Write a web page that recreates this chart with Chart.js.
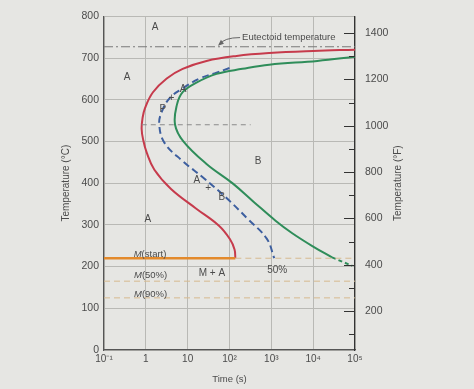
<!DOCTYPE html>
<html>
<head>
<meta charset="utf-8">
<title>Isothermal transformation diagram</title>
<script src="https://cdn.jsdelivr.net/npm/chart.js@4.4.0/dist/chart.umd.min.js"></script>
<style>
  html, body { margin: 0; padding: 0; background: #e6e6e3; }
  canvas { display: block; }
</style>
</head>
<body>
<canvas id="tttChart" width="474" height="389"></canvas>
<script>
// ---------------------------------------
// DATA (time in s, temperature in °C)
// ---------------------------------------

// transformation start (red)
const startTime = [1e5, 1e4, 891, 148, 28.2, 7.59, 3.16, 1.48, 0.955, 0.832, 0.794, 0.86, 1.05, 1.6, 4.0, 15.5, 56, 102, 132, 138];
const startTemp = [720, 717, 712, 705, 693, 674, 651, 618, 580, 555, 530, 505, 473, 432, 386, 340, 298, 266, 241, 220];

// 50% transformation (blue dashed)
const halfTime = [100, 49, 19.5, 7.59, 3.72, 2.40, 2.09, 2.82, 7.59, 22.9, 79.4, 275, 776, 1175];
const halfTemp = [676, 665, 651, 627, 604, 571, 540, 496, 453, 414, 367, 314, 267, 220];

// transformation finish (green)
const finishTime = [1e5, 1.26e4, 891, 204, 49, 16.2, 7.59, 5.5, 5.0, 7.9, 28.2, 117, 380, 1259, 3162, 1e4, 2.82e4];
const finishTemp = [703, 693, 684, 674, 662, 641, 618, 587, 540, 500, 446, 400, 355, 310, 280, 248, 222];
const finishTailTime = [2.82e4, 8.5e4];
const finishTailTemp = [222, 202];

// horizontal reference temperatures
const eutectoidTemp = 727;
const noseTemp = 540;
const noseSpan = [0.8, 320];
const msTemp = 220;
const m50Temp = 165;
const m90Temp = 125;

// axes
const timeRange = [0.1, 1e5];
const timeTicks = [0.1, 1, 10, 100, 1000, 1e4, 1e5];
const timeTickLabels = ["10\u207B\u00B9", "1", "10", "10\u00B2", "10\u00B3", "10\u2074", "10\u2075"];
const celsiusTicks = [0, 100, 200, 300, 400, 500, 600, 700, 800];
const fahrenheitTicks = [100, 200, 300, 400, 500, 600, 700, 800, 900, 1000, 1100, 1200, 1300, 1400];
const fahrenheitLabelled = [200, 400, 600, 800, 1000, 1200, 1400];

// region labels: [text, time, temperature]
const regionLabels = [
    ["A", 1.66, 773],
    ["A", 0.355, 654],
    ["B", 480, 453],
    ["A", 1.12, 314],
    ["P", 2.55, 578],
    ["+", 4.1, 603],
    ["A", 7.8, 624],
    ["A", 16.6, 408],
    ["+", 31, 387],
    ["B", 66, 365],
    ["M + A", 38, 184],
    ["50%", 1380, 191]
];
// martensite labels: [suffix, time, temperature] (drawn after an italic M)
const martensiteLabels = [
    ["(start)", 1.26, 230],
    ["(50%)", 1.3, 180],
    ["(90%)", 1.3, 133]
];

const toPoints = (xs, ys) => xs.map((x, i) => ({ x: x, y: ys[i] }));
const flat = (temp, from, to) => [{ x: from, y: temp }, { x: to, y: temp }];

const textColor = "#4b4b4b";
const gridColor = "#b9b9b5";
const sans = "'Liberation Sans', Arial, sans-serif";

// ---------------------------------------
// OVERLAY: labels, F ticks, right title
// ---------------------------------------
const overlayPlugin = {
    id: "overlay",
    afterDatasetsDraw(chart) {
        const ctx = chart.ctx;
        const xs = chart.scales.x;
        const ys = chart.scales.y;
        const y2 = chart.scales.y2;
        const area = chart.chartArea;

        ctx.save();
        ctx.fillStyle = textColor;
        ctx.textAlign = "center";
        ctx.textBaseline = "middle";

        ctx.font = "10px " + sans;
        regionLabels.forEach(l => {
            ctx.fillText(l[0], xs.getPixelForValue(l[1]), ys.getPixelForValue(l[2]));
        });

        // M(start), M(50%), M(90%)
        martensiteLabels.forEach(l => {
            ctx.font = "9.5px " + sans;
            const restW = ctx.measureText(l[0]).width;
            ctx.font = "italic 9.5px " + sans;
            const mW = ctx.measureText("M").width;
            const cx = xs.getPixelForValue(l[1]);
            const cy = ys.getPixelForValue(l[2]);
            const left = cx - (mW + restW) / 2;
            ctx.textAlign = "left";
            ctx.fillText("M", left, cy);
            ctx.font = "9.5px " + sans;
            ctx.fillText(l[0], left + mW, cy);
        });

        // eutectoid label with leader
        ctx.font = "9.5px " + sans;
        ctx.textAlign = "left";
        const tx = xs.getPixelForValue(200);
        const ty = ys.getPixelForValue(749);
        ctx.fillText("Eutectoid temperature", tx, ty);
        const ax = xs.getPixelForValue(53);
        const ay = ys.getPixelForValue(eutectoidTemp) - 1;
        ctx.strokeStyle = "#666";
        ctx.lineWidth = 1;
        ctx.beginPath();
        ctx.moveTo(tx - 2, ty);
        ctx.quadraticCurveTo(ax + 6, ty, ax + 1, ay - 1);
        ctx.stroke();
        ctx.beginPath();
        ctx.moveTo(ax, ay);
        ctx.lineTo(ax + 6, ay - 2);
        ctx.lineTo(ax + 3, ay - 6);
        ctx.closePath();
        ctx.fillStyle = "#666";
        ctx.fill();

        // Fahrenheit tick marks inside the right axis
        ctx.strokeStyle = "#333";
        ctx.beginPath();
        fahrenheitTicks.forEach(f => {
            const py = Math.round(y2.getPixelForValue(f)) + 0.5;
            const len = fahrenheitLabelled.includes(f) ? 11 : 6;
            ctx.moveTo(area.right - len, py);
            ctx.lineTo(area.right, py);
        });
        ctx.stroke();

        // right axis title
        ctx.fillStyle = textColor;
        ctx.font = "10px " + sans;
        ctx.textAlign = "center";
        ctx.translate(398, (area.top + area.bottom) / 2);
        ctx.rotate(-Math.PI / 2);
        ctx.fillText("Temperature (\u00B0F)", 0, 0);
        ctx.restore();
    }
};

// ---------------------------------------
// CHART
// ---------------------------------------
const tttChart = new Chart(document.getElementById("tttChart"), {
    type: "scatter",
    data: {
        datasets: [
            {
                label: "Eutectoid",
                data: flat(eutectoidTemp, timeRange[0], timeRange[1]),
                borderColor: "#7a7a7a",
                borderWidth: 1.2,
                borderDash: [9, 3, 2, 3]
            },
            {
                label: "Nose",
                data: flat(noseTemp, noseSpan[0], noseSpan[1]),
                borderColor: "#8a8a8a",
                borderWidth: 1.2,
                borderDash: [5, 4]
            },
            {
                label: "Ms dashed",
                data: flat(msTemp, 138, timeRange[1]),
                borderColor: "#d6b98f",
                borderWidth: 1,
                borderDash: [6, 4]
            },
            {
                label: "M50",
                data: flat(m50Temp, timeRange[0], timeRange[1]),
                borderColor: "#d6b98f",
                borderWidth: 1,
                borderDash: [6, 4]
            },
            {
                label: "M90",
                data: flat(m90Temp, timeRange[0], timeRange[1]),
                borderColor: "#d6b98f",
                borderWidth: 1,
                borderDash: [6, 4]
            },
            {
                label: "M(start)",
                data: flat(msTemp, timeRange[0], 138),
                borderColor: "#e38a2c",
                borderWidth: 2.5
            },
            {
                label: "Finish",
                data: toPoints(finishTime, finishTemp),
                borderColor: "#2f8d5a",
                borderWidth: 2,
                tension: 0.4
            },
            {
                label: "Finish tail",
                data: toPoints(finishTailTime, finishTailTemp),
                borderColor: "#2f8d5a",
                borderWidth: 2,
                borderDash: [4, 3]
            },
            {
                label: "50%",
                data: toPoints(halfTime, halfTemp),
                borderColor: "#3d5f9f",
                borderWidth: 2,
                borderDash: [7, 4],
                tension: 0.4
            },
            {
                label: "Start",
                data: toPoints(startTime, startTemp),
                borderColor: "#c63b4c",
                borderWidth: 2,
                tension: 0.4
            }
        ]
    },
    options: {
        responsive: false,
        animation: false,
        showLine: true,
        elements: { point: { radius: 0, hoverRadius: 0 } },
        layout: { padding: { top: 9, left: 60, right: 0, bottom: 0 } },
        plugins: {
            legend: { display: false },
            tooltip: { enabled: false }
        },
        scales: {
            x: {
                type: "logarithmic",
                min: timeRange[0],
                max: timeRange[1],
                afterBuildTicks: s => { s.ticks = timeTicks.map(v => ({ value: v })); },
                afterFit: s => { s.height = 39; },
                ticks: {
                    color: textColor,
                    font: { size: 10, family: sans },
                    padding: 3,
                    maxRotation: 0,
                    autoSkip: false,
                    callback: (v, i) => timeTickLabels[i]
                },
                grid: { color: gridColor, drawTicks: false },
                border: { color: "#555", width: 1.2 },
                title: {
                    display: true,
                    text: "Time (s)",
                    color: textColor,
                    font: { size: 9.5, family: sans },
                    padding: { top: 0, bottom: 4 }
                }
            },
            y: {
                min: 0,
                max: 800,
                afterBuildTicks: s => { s.ticks = celsiusTicks.map(v => ({ value: v })); },
                afterFit: s => { s.width = 44; },
                ticks: {
                    color: textColor,
                    font: { size: 10.5, family: sans },
                    padding: 5
                },
                grid: { color: gridColor, drawTicks: false },
                border: { color: "#555", width: 1.2 },
                title: {
                    display: true,
                    text: "Temperature (\u00B0C)",
                    color: textColor,
                    font: { size: 10, family: sans },
                    padding: { top: 0, bottom: 20 }
                }
            },
            y2: {
                position: "right",
                min: 0 * 1.8 + 32,
                max: 800 * 1.8 + 32,
                afterBuildTicks: s => { s.ticks = fahrenheitTicks.map(v => ({ value: v })); },
                afterFit: s => { s.width = 119; },
                ticks: {
                    color: textColor,
                    font: { size: 10.5, family: sans },
                    padding: 10,
                    autoSkip: false,
                    callback: v => fahrenheitLabelled.includes(v) ? v : ""
                },
                grid: { drawOnChartArea: false, drawTicks: false },
                border: { color: "#333", width: 1.2 }
            }
        }
    },
    plugins: [overlayPlugin]
});
</script>
</body>
</html>
